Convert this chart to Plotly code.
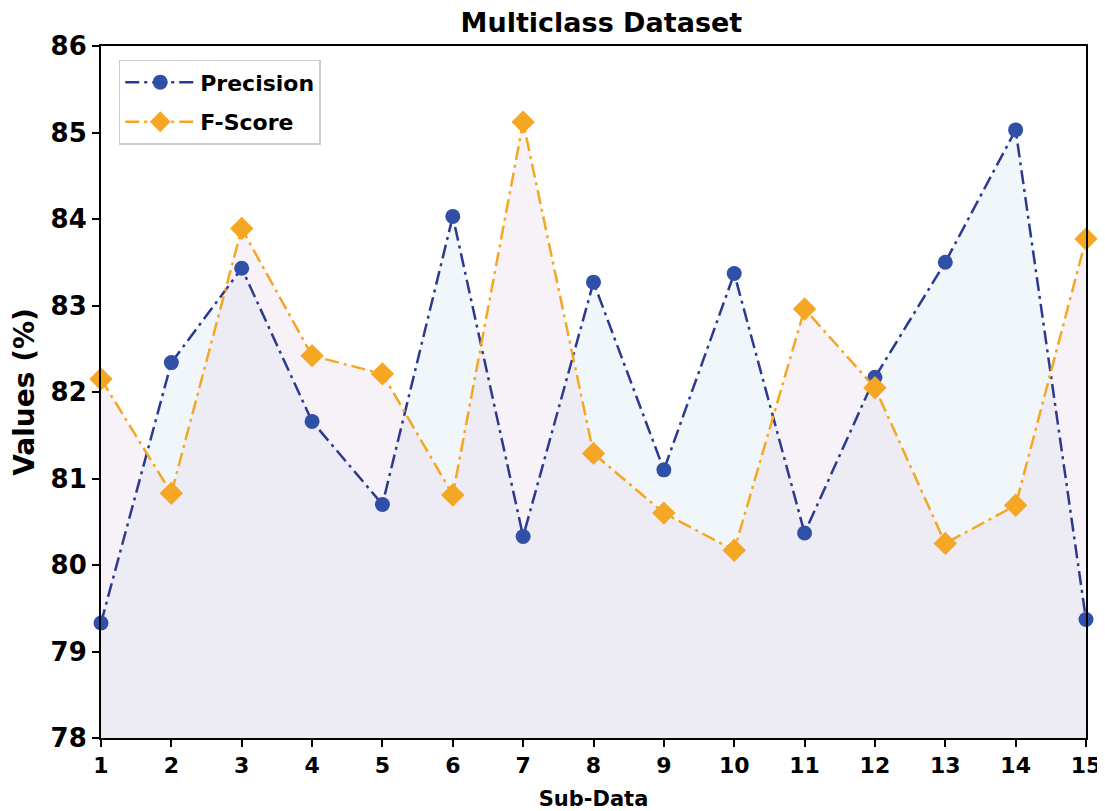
import plotly.graph_objects as go

# Data
sub_data = list(range(1, 16))
precision = [79.33, 82.34, 83.43, 81.66, 80.70, 84.03, 80.33, 83.27,
             81.10, 83.37, 80.37, 82.17, 83.50, 85.03, 79.37]
f_score = [82.15, 80.83, 83.89, 82.42, 82.21, 80.81, 85.12, 81.29,
           80.60, 80.17, 82.96, 82.05, 80.25, 80.69, 83.77]
y_ticks = [78, 79, 80, 81, 82, 83, 84, 85, 86]

FONT = "DejaVu Sans"
DASH = "14px,5px,3px,5px"

fig = go.Figure()

# shaded areas first, so lines and markers sit on top
fig.add_trace(go.Scatter(
    x=sub_data, y=precision, mode="none", showlegend=False,
    fill="tozeroy", fillcolor="rgba(214,228,240,0.35)", hoverinfo="skip",
))
fig.add_trace(go.Scatter(
    x=sub_data, y=f_score, mode="none", showlegend=False,
    fill="tozeroy", fillcolor="rgba(228,218,236,0.35)", hoverinfo="skip",
))

fig.add_trace(go.Scatter(
    x=sub_data, y=precision, name="Precision", legendgroup="p",
    mode="lines+markers",
    line=dict(color="#2b3990", width=2.5, dash=DASH),
    marker=dict(symbol="circle", size=15, color="#3050a8"),
    cliponaxis=False,
))

fig.add_trace(go.Scatter(
    x=sub_data, y=f_score, name="F-Score", legendgroup="f",
    mode="lines+markers",
    line=dict(color="#f5a623", width=2.5, dash=DASH),
    marker=dict(symbol="diamond", size=18, color="#f5a623"),
    cliponaxis=False,
))

fig.update_layout(
    width=1105, height=811,
    margin=dict(l=93, r=19, t=38, b=75),
    paper_bgcolor="white", plot_bgcolor="white",
    font=dict(family=FONT, color="black"),
    title=dict(text="Multiclass Dataset", x=0.537, xanchor="center",
               y=0.982, yanchor="middle",
               font=dict(size=27, weight="bold", family=FONT)),
    showlegend=True,
    legend=dict(x=0.018, y=0.98, xanchor="left", yanchor="top",
                bgcolor="white", bordercolor="#cccccc", borderwidth=1.5,
                font=dict(size=22, weight="bold", family=FONT),
                itemwidth=70, tracegroupgap=8,
                entrywidth=190),
    xaxis=dict(
        range=[1, 15], tickvals=sub_data, showgrid=False, zeroline=False,
        showline=True, mirror=True, linecolor="black", linewidth=2,
        ticks="outside", ticklen=7, tickwidth=2, tickcolor="black",
        tickfont=dict(size=22, weight="bold", family=FONT),
        title=dict(text="Sub-Data", standoff=14,
                   font=dict(size=21, weight="bold", family=FONT)),
    ),
    yaxis=dict(
        range=[78, 86], tickvals=y_ticks, showgrid=False, zeroline=False,
        showline=True, mirror=True, linecolor="black", linewidth=2,
        ticks="outside", ticklen=7, tickwidth=2, tickcolor="black",
        tickfont=dict(size=26, weight="bold", family=FONT),
        title=dict(text="Values (%)", standoff=10,
                   font=dict(size=28, weight="bold", family=FONT)),
    ),
)

fig.write_html("out.html")
